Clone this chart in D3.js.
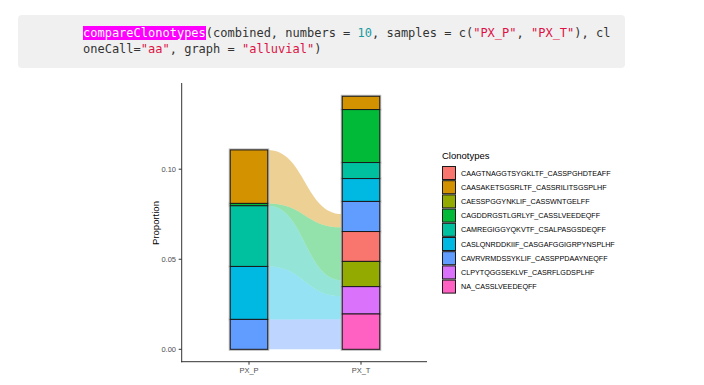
<!DOCTYPE html>
<html>
<head>
<meta charset="utf-8">
<title>compareClonotypes alluvial</title>
<style>
  body { margin: 0; background: #fff; }
  #code {
    position: absolute; left: 18px; top: 15px; width: 607px; height: 53px;
    background: #f0f0f0; border-radius: 4px;
  }
  #code .line {
    position: absolute; left: 65px; white-space: pre;
    font-family: 'DejaVu Sans Mono', monospace; font-size: 12px; line-height: 14px; color: #333;
  }
  .fn { background: #ff00ff; color: #fff; }
  .num { color: #1a9ba0; }
  .str { color: #dd1144; }
  svg { position: absolute; left: 0; top: 0; }
  text { font-family: 'Liberation Sans', Arial, sans-serif; }
</style>
<script src="https://cdn.jsdelivr.net/npm/d3@7"></script>
</head>
<body>
<div id="code">
  <div class="line" style="top:11px"><span class="fn">compareClonotypes</span><span>(combined, numbers = </span><span class="num">10</span><span>, samples = c(</span><span class="str">"PX_P"</span><span>, </span><span class="str">"PX_T"</span><span>), cl</span></div>
  <div class="line" style="top:27px"><span>oneCall=</span><span class="str">"aa"</span><span>, graph = </span><span class="str">"alluvial"</span><span>)</span></div>
</div>
<div id="chart"></div>
<script>
// ******* Data *******
const samples = ["PX_P", "PX_T"];
const clonotypes = [
  "CAAGTNAGGTSYGKLTF_CASSPGHDTEAFF",
  "CAASAKETSGSRLTF_CASSRILITSGSPLHF",
  "CAESSPGGYNKLIF_CASSWNTGELFF",
  "CAGDDRGSTLGRLYF_CASSLVEEDEQFF",
  "CAMREGIGGYQKVTF_CSALPASGSDEQFF",
  "CASLQNRDDKIIF_CASGAFGGIGRPYNSPLHF",
  "CAVRVRMDSSYKLIF_CASSPPDAAYNEQFF",
  "CLPYTQGGSEKLVF_CASRFLGDSPLHF",
  "NA_CASSLVEEDEQFF"
];
const colors = ["#F8766D", "#D39200", "#93AA00", "#00BA38", "#00C19F",
                "#00B9E3", "#619CFF", "#DB72FB", "#FF61C3"];
const propP = [0, 0.0297, 0, 0.0013, 0.0337, 0.0294, 0.0166, 0, 0];
const propT = [0.0166, 0.0074, 0.0140, 0.0294, 0.0089, 0.0127, 0.0167, 0.0152, 0.0196];
// stacking order of strata, top to bottom
const stackOrder = [1, 3, 4, 5, 6, 0, 2, 7, 8];
const yTicks = [0, 0.05, 0.10];

// ******* Layout *******
const width = 704, height = 385;
const barW = 37.5;

const svg = d3.select("#chart").append("svg")
    .attr("width", width)
    .attr("height", height);

const x = d3.scalePoint().domain(samples).range([249, 361]);
const y = d3.scaleLinear().domain([0, 0.1]).range([349.3, 169.2]);

// ******* Stack strata *******
function stack(vals) {
  const out = {};
  let acc = 0;
  stackOrder.slice().reverse().forEach(i => {
    if (vals[i] > 0) { out[i] = [acc, acc + vals[i]]; acc += vals[i]; }
  });
  return out;
}
const stP = stack(propP), stT = stack(propT);

// flows: shared clonotypes, left at strata, right stacked from zero
const shared = stackOrder.filter(i => propP[i] > 0 && propT[i] > 0);
const flows = [];
let acc = 0;
shared.slice().reverse().forEach(i => {
  flows.push({i: i, l: stP[i], r: [acc, acc + propT[i]]});
  acc += propT[i];
});

const x0 = x("PX_P") + barW / 2, x1 = x("PX_T") - barW / 2, xm = (x0 + x1) / 2;
function flowPath(f) {
  const lt = y(f.l[1]), lb = y(f.l[0]), rt = y(f.r[1]), rb = y(f.r[0]);
  return `M${x0},${lt}C${xm},${lt} ${xm},${rt} ${x1},${rt}` +
         `L${x1},${rb}C${xm},${rb} ${xm},${lb} ${x0},${lb}Z`;
}
svg.append("g").selectAll("path")
  .data(flows)
  .enter().append("path")
  .attr("d", flowPath)
  .attr("fill", d => colors[d.i])
  .attr("fill-opacity", 0.42);

// ******* Strata *******
samples.forEach((s, k) => {
  const st = k === 0 ? stP : stT;
  const g = svg.append("g");
  const ids = Object.keys(st).map(Number);
  g.selectAll("rect.shadow")
    .data(ids).enter().append("rect")
    .attr("x", x(s) - barW / 2)
    .attr("y", d => y(st[d][1]))
    .attr("width", barW)
    .attr("height", d => y(st[d][0]) - y(st[d][1]))
    .attr("fill", "none")
    .attr("stroke", "#bbb")
    .attr("stroke-width", 3);
  g.selectAll("rect.seg")
    .data(ids).enter().append("rect")
    .attr("x", x(s) - barW / 2)
    .attr("y", d => y(st[d][1]))
    .attr("width", barW)
    .attr("height", d => y(st[d][0]) - y(st[d][1]))
    .attr("fill", d => colors[d])
    .attr("stroke", "#1a1a1a")
    .attr("stroke-width", 1);
});

// ******* Axes *******
svg.append("line")
  .attr("x1", 181.7).attr("x2", 181.7).attr("y1", 83).attr("y2", 362.3)
  .attr("stroke", "#333").attr("stroke-width", 1);
svg.append("line")
  .attr("x1", 181.2).attr("x2", 427).attr("y1", 361.7).attr("y2", 361.7)
  .attr("stroke", "#333").attr("stroke-width", 1);

const yt = svg.append("g").selectAll("g").data(yTicks).enter().append("g")
  .attr("transform", d => `translate(0,${y(d)})`);
yt.append("line").attr("x1", 178.7).attr("x2", 181.7).attr("stroke", "#333");
yt.append("text").attr("x", 176).attr("dy", "0.35em")
  .attr("text-anchor", "end").attr("font-size", 7.5).attr("fill", "#4d4d4d")
  .text(d => d3.format(".2f")(d));

const xt = svg.append("g").selectAll("g").data(samples).enter().append("g")
  .attr("transform", d => `translate(${x(d)},361.7)`);
xt.append("line").attr("y2", 3).attr("stroke", "#333");
xt.append("text").attr("y", 11.5).attr("text-anchor", "middle")
  .attr("font-size", 7.5).attr("fill", "#4d4d4d").text(d => d);

svg.append("text")
  .attr("transform", "translate(159,223) rotate(-90)")
  .attr("text-anchor", "middle").attr("font-size", 9.5).attr("fill", "#000")
  .text("Proportion");

// ******* Legend *******
const leg = svg.append("g").attr("transform", "translate(442,166)");
leg.append("text").attr("y", -7).attr("font-size", 9.5).attr("fill", "#000").text("Clonotypes");
const items = leg.selectAll("g").data(clonotypes).enter().append("g")
  .attr("transform", (d, i) => `translate(0,${i * 14.2})`);
items.append("rect")
  .attr("x", 0.5).attr("y", 0.5).attr("width", 13).attr("height", 13)
  .attr("fill", (d, i) => colors[i]).attr("stroke", "#1a1a1a");
items.append("text").attr("x", 19).attr("y", 7).attr("dy", "0.35em")
  .attr("font-size", 7.2).attr("fill", "#000").text(d => d);
</script>
</body>
</html>
